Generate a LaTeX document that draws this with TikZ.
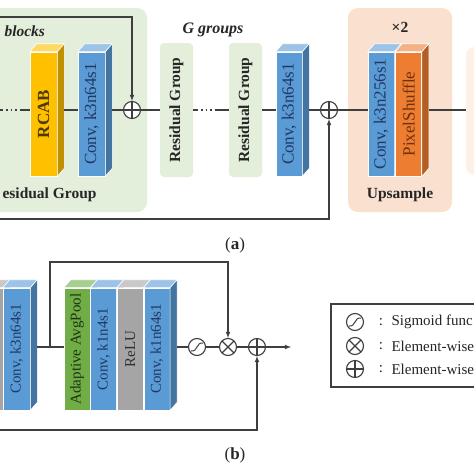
\documentclass[tikz,border=0pt]{standalone}
\usepackage{fontspec}
\usepackage{graphicx}
\setmainfont{Liberation Serif}
\usetikzlibrary{positioning}

\definecolor{linegray}{HTML}{3F3F3F}
\definecolor{convblue}{HTML}{5B9BD5}
\definecolor{convtext}{HTML}{1F3864}
\definecolor{rcabyellow}{HTML}{FFC000}
\definecolor{rcabtext}{HTML}{4D3B00}
\definecolor{psorange}{HTML}{ED7D31}
\definecolor{pstext}{HTML}{6E300A}
\definecolor{poolgreen}{HTML}{70AD47}
\definecolor{pooltext}{HTML}{1E3311}
\definecolor{relugray}{HTML}{A5A5A5}
\definecolor{relutext}{HTML}{303030}
\definecolor{panelgreen}{HTML}{E3EFDA}
\definecolor{peach}{HTML}{FAE0CE}
\definecolor{peachlight}{HTML}{FDF0E7}

% top and side faces of a block
\newcommand{\faces}[2]{%
  \fill[#2!60!white,draw=white,line width=.6pt] (#1.north west) -- ++(7pt,8pt) -- ([shift={(7pt,8pt)}]#1.north east) -- (#1.north east) -- cycle;
  \fill[#2!75!black,draw=white,line width=.6pt] (#1.north east) -- ++(7pt,8pt) -- ([shift={(7pt,8pt)}]#1.south east) -- (#1.south east) -- cycle;
}

\tikzset{
  ln/.style={draw=linegray,line width=1.1pt},
  skipdots/.style={dash pattern=on 5pt off 3pt on 1.5pt off 3pt on 1.5pt off 3pt on 1.5pt off 3pt on 40pt},
  blk/.style={rectangle,draw=white,line width=.6pt,minimum width=26pt,minimum height=124pt,inner sep=0pt,font=\fontsize{17}{17}\selectfont},
  blkb/.style={blk,minimum height=122pt,font=\fontsize{15}{15}\selectfont},
  grp/.style={rectangle,rounded corners=4pt,fill=panelgreen,minimum width=33pt,minimum height=134pt,inner sep=0pt,text=black!85,font=\fontsize{15.5}{15.5}\selectfont\bfseries},
  bold/.style={font=\fontsize{15.5}{15.5}\selectfont\bfseries,text=black!85},
  lgtxt/.style={font=\fontsize{15}{15}\selectfont,text=black!85},
  op/.style={circle,draw=linegray,line width=1.1pt,minimum size=17pt,inner sep=0pt,fill=white},
  sumop/.style={op,path picture={\draw[linegray,line width=1.1pt] (path picture bounding box.north) -- (path picture bounding box.south) (path picture bounding box.west) -- (path picture bounding box.east);}},
  mulop/.style={op,path picture={\draw[linegray,line width=1.1pt] (path picture bounding box.north west) -- (path picture bounding box.south east) (path picture bounding box.north east) -- (path picture bounding box.south west);}},
  sigop/.style={op,path picture={\draw[linegray,line width=1pt] ([shift={(-6pt,-4pt)}]path picture bounding box.center) .. controls ([shift={(1pt,-5pt)}]path picture bounding box.center) and ([shift={(-1pt,5pt)}]path picture bounding box.center) .. ([shift={(6pt,4pt)}]path picture bounding box.center);}}
}

\begin{document}
\begin{tikzpicture}[x=1pt,y=-1pt]
\useasboundingbox (0,0) rectangle (474,474);
\clip (0,0) rectangle (474,474);
\fill[white] (0,0) rectangle (474,474);

% (a) panels
\fill[panelgreen,rounded corners=10pt] (-100,8) rectangle (147,212);
\fill[peach,rounded corners=10pt] (348,8) rectangle (452,212);
\node[rectangle,rounded corners=8pt,fill=peachlight,minimum width=60pt,minimum height=128pt,anchor=west] (tail) at (466,111) {};

\node[bold,font=\fontsize{15.5}{15.5}\selectfont\bfseries\itshape,anchor=west] (blabel) at (1,31) {blocks};
\node[bold,anchor=west] (rglabel) at (-1,195) {esidual Group};
\node[bold,font=\fontsize{16}{16}\selectfont\bfseries\itshape] (glabel) at (213,30) {G groups};
\node[bold] (times) at (400,27) {×2};
\node[bold] (uplabel) at (400,195) {Upsample};

% (a) blocks
\node[blk,fill=rcabyellow,minimum width=27pt,text=rcabtext] (rcab) at (43.5,114) {\rotatebox{90}{\textbf{RCAB}}};
\faces{rcab}{rcabyellow}
\node[blk,fill=convblue,minimum width=27pt,text=convtext] (conv1) at (91.5,114) {\rotatebox{90}{Conv, k3n64s1}};
\faces{conv1}{convblue}
\node[sumop] (sumA) at (132,110) {};
\node[grp] (rg1) at (176.5,110) {\rotatebox{90}{Residual Group}};
\node[grp] (rg2) at (245.5,110) {\rotatebox{90}{Residual Group}};
\node[blk,fill=convblue,text=convtext] (conv2) at (289,114) {\rotatebox{90}{Conv, k3n64s1}};
\faces{conv2}{convblue}
\node[sumop] (sumB) at (329,110) {};
\node[blk,fill=convblue,text=convtext] (up1) at (381,114) {\rotatebox{90}{Conv, k3n256s1}};
\faces{up1}{convblue}
\node[blk,fill=psorange,text=pstext,right=1pt of up1] (ps) {\rotatebox{90}{PixelShuffle}};
\faces{ps}{psorange}

\coordinate (inA) at (-2,110);
\coordinate (skA) at (-2,17);
\coordinate (skB) at (-2,219);

% (a) connectors
\draw[ln,skipdots] (inA) -- (rcab.west |- inA);
\draw[ln] ([xshift=7pt]rcab.east |- inA) -- (conv1.west |- inA);
\draw[ln] ([xshift=7pt]conv1.east |- inA) -- (sumA);
\draw[ln,-latex] (skA) -| (sumA);
\draw[ln] (sumA) -- (rg1);
\draw[ln,skipdots] (rg1) -- (rg2);
\draw[ln] (rg2) -- (conv2.west |- rg2);
\draw[ln] ([xshift=7pt]conv2.east |- sumB) -- (sumB);
\draw[ln,-latex] (skB) -| (sumB);
\draw[ln] (sumB) -- (up1.west |- sumB);
\draw[ln] ([xshift=7pt]ps.east |- sumB) -- (tail.west |- sumB);

\node[font=\fontsize{17}{17}\selectfont,text=black!85] (capa) at (235,245) {(\textbf{a})};

% (b) blocks
\node[blkb,fill=relugray] (relu0) at (-10,349) {};
\faces{relu0}{relugray}
\node[blkb,fill=convblue,minimum width=27pt,text=convtext] (convb) at (16.5,349) {\rotatebox{90}{Conv, k3n64s1}};
\faces{convb}{convblue}
\node[blkb,fill=poolgreen,text=pooltext] (pool) at (77,349) {\rotatebox{90}{Adaptive AvgPool}};
\faces{pool}{poolgreen}
\node[blkb,fill=convblue,text=convtext,right=0pt of pool] (k1) {\rotatebox{90}{Conv, k1n4s1}};
\faces{k1}{convblue}
\node[blkb,fill=relugray,text=relutext,right=0pt of k1] (relu) {\rotatebox{90}{ReLU}};
\faces{relu}{relugray}
\node[blkb,fill=convblue,text=convtext,right=0pt of relu] (k2) {\rotatebox{90}{Conv, k1n64s1}};
\faces{k2}{convblue}

\node[sigop] (sig) at (197,347) {};
\node[mulop] (mul) at (228,347) {};
\node[sumop] (sumC) at (257,347) {};
\coordinate (brB) at (50,347);
\coordinate (topB) at (228,262);
\coordinate (outB) at (291,347);
\coordinate (skC) at (-2,430);

% (b) connectors
\draw[ln] ([xshift=7pt]convb.east |- brB) -- (pool.west |- brB);
\draw[ln,-latex] (brB) |- (topB) -- (mul);
\draw[ln] ([xshift=7pt]k2.east |- sig) -- (sig);
\draw[ln] (sig) -- (mul);
\draw[ln] (mul) -- (sumC);
\draw[ln,-latex] (sumC) -- (outB);
\draw[ln,-latex] (skC) -| (sumC);

\node[font=\fontsize{17}{17}\selectfont,text=black!85] (capb) at (235,455) {(\textbf{b})};

% legend
\draw[draw=linegray,line width=1.2pt] (331,304) rectangle (490,387);
\node[sigop] (lg1) at (355,322) {};
\node[mulop] (lg2) at (355,346) {};
\node[sumop] (lg3) at (355,369) {};
\node[lgtxt] (col1) at (381,322) {:};
\node[lgtxt] (col2) at (381,346) {:};
\node[lgtxt] (col3) at (381,369) {:};
\node[lgtxt,anchor=west] (lt1) at (388,322) {Sigmoid func};
\node[lgtxt,anchor=west] (lt2) at (388,346) {Element-wise};
\node[lgtxt,anchor=west] (lt3) at (388,369) {Element-wise};
\end{tikzpicture}
\end{document}
